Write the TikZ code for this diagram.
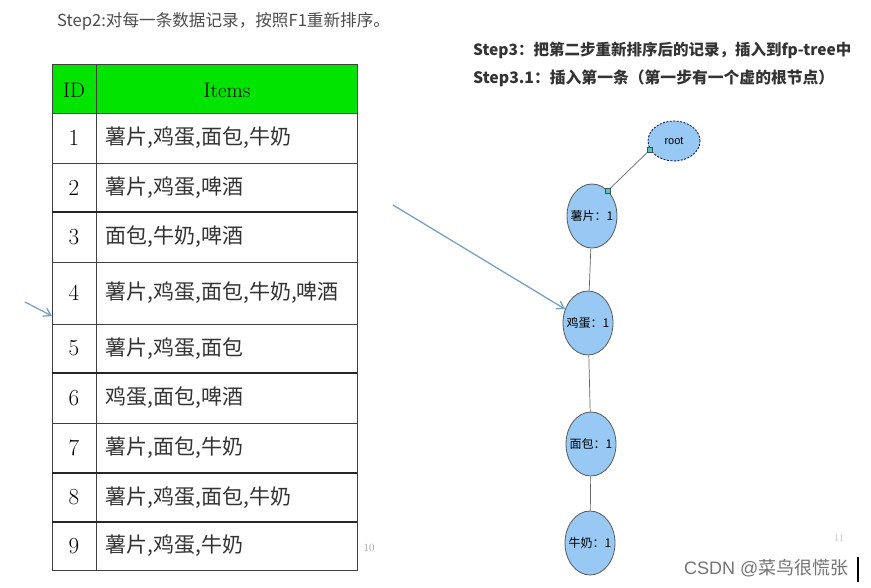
\documentclass[tikz,border=0pt]{standalone}
\usepackage{fontspec}
\newfontfamily\cjk{Noto Sans CJK SC}
\newfontfamily\wmfont{Liberation Sans}
\usetikzlibrary{arrows.meta,shapes.geometric}
\definecolor{hdrgreen}{RGB}{0,228,0}
\definecolor{nodeblue}{RGB}{152,200,244}
\definecolor{arrowblue}{RGB}{120,160,200}
\definecolor{handlecol}{RGB}{70,205,195}
\tikzset{
  cell/.style={draw=black!75,line width=0.9pt},
  treenode/.style={ellipse,draw=black!65,line width=0.8pt,fill=nodeblue,inner ysep=0pt,inner xsep=-5pt,
    minimum width=50pt,minimum height=64pt,font=\fontsize{12}{12}\selectfont\cjk},
  edge/.style={draw=black!60,line width=0.7pt},
  handle/.style={rectangle,draw=black!70,fill=handlecol,inner sep=0pt,minimum size=5pt,line width=0.4pt},
  arr/.style={arrowblue,line width=1.3pt,-{Straight Barb[length=7pt,width=9pt]}}
}

\begin{document}
\begin{tikzpicture}[x=1pt,y=-1pt]
\useasboundingbox (0,0) rectangle (871,587);
% Step2
\begin{scope}
\clip (0,0) rectangle (391,45);
\node[anchor=west,text=black!70,inner sep=0pt] (step2) at (57,21) {\fontsize{16.6}{16.6}\selectfont\cjk Step2:对每一条数据记录，按照F1重新排序。};
\end{scope}
% table
\fill[hdrgreen] (52,64) rectangle (357,113);
\node (hid) at (74,90) {\fontsize{21}{21}\selectfont ID};
\node (hitems) at (227,90) {\fontsize{21}{21}\selectfont Items};
\foreach \i/\ya/\yb/\items in {1/113/163/{薯片,鸡蛋,面包,牛奶},2/163/212/{薯片,鸡蛋,啤酒},3/212/262/{面包,牛奶,啤酒},4/262/324/{薯片,鸡蛋,面包,牛奶,啤酒},5/324/373/{薯片,鸡蛋,面包},6/373/423/{鸡蛋,面包,啤酒},7/423/473/{薯片,面包,牛奶},8/473/522/{薯片,鸡蛋,面包,牛奶},9/522/570/{薯片,鸡蛋,牛奶}} {
  \draw[cell] (52,\ya) rectangle (357,\yb);
  \node (id\i) at (74,{(\ya+\yb)/2}) {\fontsize{23}{23}\selectfont\i};
  \node[anchor=west,text=black!80] (it\i) at (102,{(\ya+\yb)/2}) {\fontsize{21}{21}\selectfont\cjk\items};
}
\draw[cell] (52,64) rectangle (357,570);
\draw[cell] (96,64) -- (96,570);
\foreach \y in {212,373,473,522} {
  \draw[black!85,line width=1.6pt] (52,\y) -- (357,\y);
}
\node[text=black!40] (p10) at (369,548) {\fontsize{11}{11}\selectfont 10};
% left arrow
\coordinate (la) at (25,302);
\coordinate (lb) at (52,316);
\draw[arr] (la) -- (lb);
% Step3
\node[anchor=west,text=black!80,inner sep=0pt] (step3) at (473,50) {\fontsize{15.5}{15.5}\selectfont\cjk\bfseries Step3：把第二步重新排序后的记录，插入到fp-tree中};
\node[anchor=west,text=black!80,inner sep=0pt] (step31) at (473,78) {\fontsize{15.8}{15.8}\selectfont\cjk\bfseries Step3.1：插入第一条（第一步有一个虚的根节点）};
% tree
\node[treenode,dashed,draw=black!70!blue,dash pattern=on 2pt off 1.5pt,inner xsep=0pt,minimum width=52pt,minimum height=40pt,font=\fontsize{11}{11}\selectfont\wmfont] (root) at (674,141) {root};
\node[treenode] (chips) at (592,216) {薯片：1};
\node[treenode] (egg) at (588,323) {鸡蛋：1};
\node[treenode] (bread) at (591,444) {面包：1};
\node[treenode] (milk) at (590,543) {牛奶：1};
\draw[edge] (root.200) -- (chips.58) node[pos=0,handle]{} node[pos=1,handle]{};
\draw[edge] (chips) -- (egg);
\draw[edge] (egg) -- (bread);
\draw[edge] (bread) -- (milk);
% middle arrow
\coordinate (ma) at (393,205);
\draw[arr] (ma) -- (egg);
% watermark
\node[text=black!25] (p11) at (839,538) {\fontsize{10}{10}\selectfont 11};
\node[anchor=west,text=black!55,inner sep=0pt] (wm) at (684,568) {\fontsize{18}{18}\selectfont\wmfont CSDN @\cjk 菜鸟很慌张};
\draw[line width=2pt] (858,557) -- (858,582);
\end{tikzpicture}
\end{document}
